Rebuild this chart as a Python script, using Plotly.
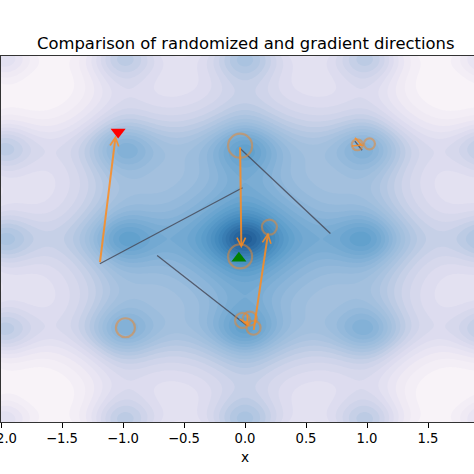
import numpy as np
import plotly.graph_objects as go

# ---- data ----
# surface: Ackley test function on [-2, 2]^2
grid_x = np.linspace(-2, 2, 241)
grid_y = np.linspace(-2, 2, 241)

# gradient steps (orange arrows): start -> end
grad_x0 = [-0.04, -1.19, 0.07, 0.00, 0.93]
grad_y0 = [1.02, -0.27, -1.01, -0.88, 1.04]
grad_x1 = [-0.03, -1.06, 0.19, 0.03, 0.97]
grad_y1 = [-0.10, 1.13, 0.07, -0.95, 1.02]

# randomized directions (gray segments): start -> end
rand_x0 = [-1.19, -0.04, -0.72, 0.90]
rand_y0 = [-0.27, 0.99, -0.18, 1.07]
rand_x1 = [-0.02, 0.70, 0.02, 0.96]
rand_y1 = [0.56, 0.06, -0.95, 0.97]

# visited points (open orange circles)
pts_x = [-0.04, -0.04, 0.20, -0.98, -0.02, 0.04, 0.07, 0.92, 1.02]
pts_y = [1.02, -0.19, 0.13, -0.97, -0.89, -0.87, -0.97, 1.03, 1.04]
pts_size = [24, 24, 15, 19, 15, 14, 14, 11, 11]

start_x, start_y = [-1.04], [1.17]
end_x, end_y = [-0.05], [-0.21]

x_ticks = [-2.0, -1.5, -1.0, -0.5, 0.0, 0.5, 1.0, 1.5]
x_ticktext = ["−2.0", "−1.5", "−1.0", "−0.5", "0.0", "0.5", "1.0", "1.5"]

title_text = "Comparison of randomized and gradient directions"

# ---- surface ----
X, Y = np.meshgrid(grid_x, grid_y)
Z = (-20 * np.exp(-0.2 * np.sqrt(0.5 * (X**2 + Y**2)))
     - np.exp(0.5 * (np.cos(2 * np.pi * X) + np.cos(2 * np.pi * Y)))
     + np.e + 20)

z_top = 7.625
c_vals = [0.0, 1.5, 2.6, 3.6, 4.3, 4.9, 5.4, 5.9, 6.5, 7.1, 7.625]
c_cols = ["#1b5590", "#3f86bb", "#5f9fcc", "#80b0d6", "#98bbdc",
          "#a9c3e0", "#bccbe4", "#cfd4ea", "#e0def0", "#eee9f4", "#f8f3f8"]
cscale = [[v / z_top, c] for v, c in zip(c_vals, c_cols)]

fig = go.Figure()
fig.add_trace(go.Contour(
    x=grid_x, y=grid_y, z=Z,
    colorscale=cscale, showscale=False,
    contours=dict(coloring="fill", start=0, end=7.5, size=0.25),
    line=dict(width=0), hoverinfo="skip",
))

# gray randomized segments
for a, b, c, d in zip(rand_x0, rand_y0, rand_x1, rand_y1):
    fig.add_trace(go.Scatter(x=[a, c], y=[b, d], mode="lines",
                             line=dict(color="rgba(70,75,90,0.85)", width=1.3),
                             showlegend=False, hoverinfo="skip"))

# visited points
fig.add_trace(go.Scatter(x=pts_x, y=pts_y, mode="markers",
                         marker=dict(symbol="circle-open", size=pts_size,
                                     color="rgba(240,135,40,0.72)",
                                     line=dict(width=2.2, color="rgba(240,135,40,0.72)")),
                         showlegend=False, hoverinfo="skip"))

fig.add_trace(go.Scatter(x=start_x, y=start_y, mode="markers",
                         marker=dict(symbol="triangle-down", size=13, color="red"),
                         showlegend=False, hoverinfo="skip"))
fig.add_trace(go.Scatter(x=end_x, y=end_y, mode="markers",
                         marker=dict(symbol="triangle-up", size=13, color="green"),
                         showlegend=False, hoverinfo="skip"))

annotations = []
for a, b, c, d in zip(grad_x0, grad_y0, grad_x1, grad_y1):
    annotations.append(dict(x=c, y=d, ax=a, ay=b, xref="x", yref="y",
                            axref="x", ayref="y", text="", showarrow=True,
                            arrowhead=5, arrowsize=0.85, arrowwidth=2,
                            arrowcolor="rgba(255,140,30,0.85)", standoff=0))

annotations.append(dict(x=0.0, y=1.0355, xref="x", yref="paper", text=title_text,
                        showarrow=False, xanchor="center", yanchor="middle",
                        font=dict(family="DejaVu Sans", size=16.4, color="black")))
annotations.append(dict(x=0.0, y=-0.0956, xref="x", yref="paper", text="x",
                        showarrow=False, xanchor="center", yanchor="middle",
                        font=dict(family="DejaVu Sans", size=13.7, color="black")))

fig.update_layout(
    width=474, height=474,
    margin=dict(l=1, r=0, t=56, b=52, pad=0),
    paper_bgcolor="white", plot_bgcolor="white",
    annotations=annotations,
    xaxis=dict(range=[-2, 1.877], tickvals=x_ticks, ticktext=x_ticktext,
               ticks="outside", ticklen=4.5, tickcolor="black", tickwidth=1,
               ticklabeloverflow="allow",
               showline=True, linecolor="#333333", linewidth=1, mirror=True,
               showgrid=False, zeroline=False, automargin=False,
               tickfont=dict(family="DejaVu Sans", size=13.2, color="black")),
    yaxis=dict(range=[-2, 2], showticklabels=False, ticks="",
               showline=True, linecolor="#333333", linewidth=1, mirror=True,
               showgrid=False, zeroline=False, automargin=False),
)

fig.write_html("out.html")
